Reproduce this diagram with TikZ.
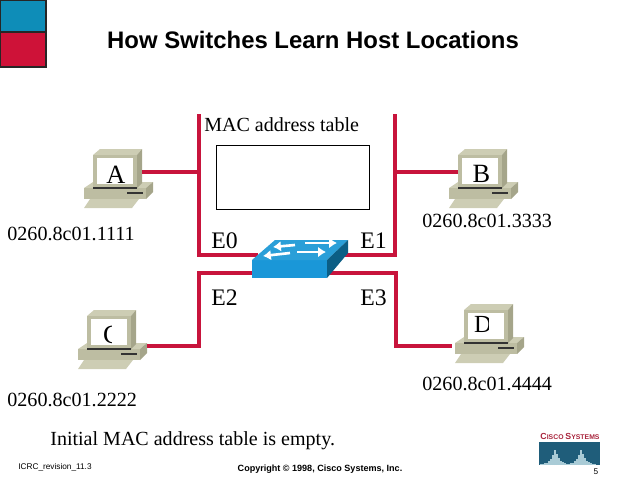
\documentclass[tikz,border=0pt]{standalone}
\usepackage{fontspec}
\setmainfont{Liberation Serif}
\setsansfont{Liberation Sans}
\usetikzlibrary{arrows.meta}

\definecolor{linkred}{HTML}{C8143C}
\definecolor{boxblue}{HTML}{0E8DB8}
\definecolor{boxred}{HTML}{CE1238}
\definecolor{hostlight}{HTML}{CDCDB4}
\definecolor{hostmid}{HTML}{BDBDA2}
\definecolor{hostdark}{HTML}{A5A58A}
\definecolor{swtop}{HTML}{2A9FD8}
\definecolor{swfront}{HTML}{1A97D8}
\definecolor{swside}{HTML}{0B5E85}
\definecolor{logoblue}{HTML}{1F5D7A}
\definecolor{logobar}{HTML}{A9CBD6}
\definecolor{logored}{HTML}{A8243C}

\tikzset{
    link/.style={draw=linkred, line width=2.2pt, line join=miter},
    addr/.style={anchor=base west, inner sep=0pt, font=\fontsize{11.45}{13}\selectfont},
    note/.style={anchor=base west, inner sep=0pt, font=\fontsize{11.4}{13}\selectfont},
    port/.style={anchor=base west, inner sep=0pt, font=\fontsize{13.5}{15}\selectfont},
    hostname/.style={inner sep=0pt, font=\fontsize{15}{17}\selectfont},
    foot/.style={inner sep=0pt, font=\sffamily\fontsize{4.7}{6}\selectfont},
    swarrow/.style={draw=white, line width=1.5pt, -{Latex[length=4.5pt,width=6pt]}},
    pics/computer/.style={code={
        % Base
        \fill[hostlight] (-9,33) -- (0,27) -- (60,27) -- (53,33) -- cycle;
        \fill[hostmid] (-9,33) rectangle (53,44);
        \fill[hostdark] (53,33) -- (60,27) -- (60,37) -- (53,44) -- cycle;
        \draw[black!80, line width=0.7pt] (34,38) -- (50,38);
        % Monitor
        \fill[hostlight] (0,0) -- (7,-6) -- (49,-6) -- (44,0) -- cycle;
        \fill[hostdark] (44,0) -- (49,-6) -- (49,28) -- (44,33) -- cycle;
        \fill[hostmid] (0,0) rectangle (44,33);
        \fill[white] (4,3) rectangle (40,29);
        \draw[black!80, line width=0.7pt] (0,33) -- (44,33);
        % Keyboard
        \fill[hostlight] (-3,44) -- (46,44) -- (39,53) -- (-9,53) -- cycle;
        \coordinate (-east) at (49,17);
        \coordinate (-west) at (0,17);
        \coordinate (-backright) at (60,30);
        \coordinate (-backleft) at (-12,36);
    }},
}

\begin{document}
\begin{tikzpicture}[x=0.02cm, y=-0.02cm]
    \useasboundingbox (0,0) rectangle (638,478);

    % Corner squares
    \fill[boxblue, draw=black!85, line width=0.6pt] (0,0) rectangle (46,32);
    \fill[boxred, draw=black!85, line width=0.6pt] (0,32) rectangle (46,67);

    % Title
    \node[inner sep=0pt, font=\sffamily\bfseries\fontsize{13.6}{16}\selectfont] (title) at (313,40) {How Switches Learn Host Locations};

    % Address table
    \node[note] (tablelabel) at (204,131) {MAC address table};
    \node[draw, line width=0.4pt, minimum width=153*0.02cm, minimum height=64*0.02cm, anchor=north west, inner sep=0pt] (table) at (216,145) {};

    % Hosts
    \pic (hosta) at (93,155) {computer};
    \pic (hostb) at (458,155) {computer};
    \pic (hostc) at (87,316) {computer};
    \pic (hostd) at (464,310) {computer};

    % Host letters, C and D are cut off in their screens
    \node[hostname] (namea) at (116,175) {A};
    \node[hostname] (nameb) at (481.5,174) {B};
    \begin{scope}
        \clip (98,322) rectangle (111,348);
        \node[hostname] (namec) at (112,335) {C};
    \end{scope}
    \begin{scope}
        \clip (470,314) rectangle (488,338);
        \node[hostname, font=\fontsize{14}{16}\selectfont] (named) at (483,324) {D};
    \end{scope}

    % Corners of the segments
    \coordinate (e0top) at (199,114);
    \coordinate (e0low) at (199,255);
    \coordinate (e0tee) at (199,172);
    \coordinate (e1top) at (395,114);
    \coordinate (e1low) at (395,255);
    \coordinate (e1tee) at (395,172);
    \coordinate (e2top) at (199,273);
    \coordinate (e2low) at (199,346);
    \coordinate (e3top) at (396,273);
    \coordinate (e3low) at (396,346);

    % Segments
    \coordinate (swe0) at (258,255);
    \coordinate (swe1) at (345,255);
    \coordinate (swe2) at (253,273);
    \coordinate (swe3) at (326,273);
    \draw[link] (e0top) -- (e0low) -- (swe0);
    \draw[link] (e1top) -- (e1low) -- (swe1);
    \draw[link] (swe2) -- (e2top) -- (e2low) -- (hostc-backright);
    \draw[link] (swe3) -- (e3top) -- (e3low) -- (hostd-backleft);
    \draw[link] (hosta-east) -- (e0tee);
    \draw[link] (hostb-west) -- (e1tee);

    % Switch
    \fill[swfront] (252,260) rectangle (327,278);
    \fill[swtop] (252,260) -- (275,240) -- (348,240) -- (327,260) -- cycle;
    \fill[swside] (327,260) -- (348,240) -- (348,253) -- (327,278) -- cycle;
    \draw[swarrow] (295,245) -- (273,247);
    \draw[swarrow] (305,243) -- (337,243);
    \draw[swarrow] (290,253) -- (263,256);
    \draw[swarrow] (297,252) -- (326,252);

    % Port labels
    \node[port] (e0) at (211,248) {E0};
    \node[port] (e1) at (360,248) {E1};
    \node[port] (e2) at (211,305) {E2};
    \node[port] (e3) at (360,305) {E3};

    % Addresses
    \node[addr] (addra) at (7,240) {0260.8c01.1111};
    \node[addr] (addrb) at (422,227) {0260.8c01.3333};
    \node[addr] (addrc) at (7,406) {0260.8c01.2222};
    \node[addr] (addrd) at (422,390) {0260.8c01.4444};

    % Caption
    \node[note] (caption) at (50,445) {Initial MAC address table is empty.};

    % Footer
    \node[foot, anchor=base west] (course) at (18,469) {ICRC\_revision\_11.3};
    \node[foot, anchor=base, font=\sffamily\bfseries\fontsize{5.15}{6}\selectfont] (copy) at (320,471) {Copyright © 1998, Cisco Systems, Inc.};
    \node[foot, anchor=base] (page) at (596,474) {5};

    % Logo
    \node[inner sep=0pt, text=logored, font=\sffamily\bfseries\fontsize{3.9}{6}\selectfont] (logotext) at (570,436) {{\fontsize{5}{6}\selectfont C}ISCO {\fontsize{5}{6}\selectfont S}YSTEMS};
    \fill[logoblue] (539,442) rectangle (600,465);
    \foreach \x/\h in {541/1,543/1,545/2,547/2,549/4,551/6,553/10,555/15,557/11,559/7,561/4,563/3,565/2,567/1,569/1,571/2,573/2,575/4,577/6,579/10,581/15,583/11,585/7,587/4,589/3,591/2,593/1,595/1} {
        \draw[logobar, line width=0.7pt] (\x,465) -- (\x,465-\h);
    }
\end{tikzpicture}
\end{document}
